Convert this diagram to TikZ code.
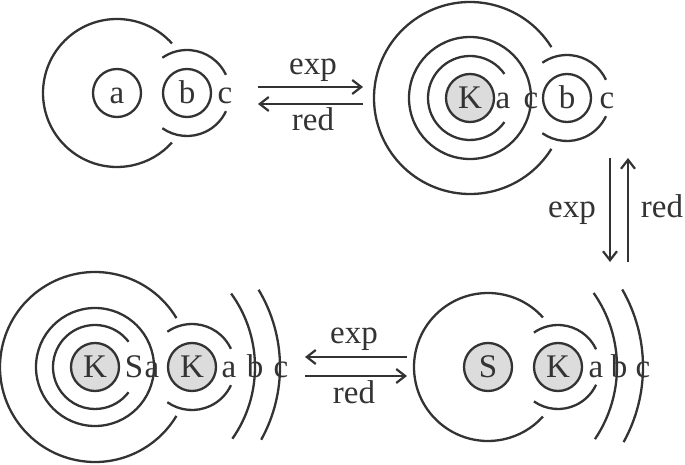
\documentclass[tikz,border=0pt]{standalone}
\usepackage{fontspec}
\setmainfont{Liberation Serif}
\usepackage{tikz}
\usetikzlibrary{arrows.meta, calc}
\definecolor{sline}{HTML}{333333}
\definecolor{sfill}{HTML}{DCDCDC}
\newcommand{\elfont}{\fontsize{33pt}{39pt}\selectfont}
\tikzset{
  core/.style={circle, draw=sline, line width=2.3pt, minimum size=48pt, inner sep=0pt,
               font=\elfont, text height=21pt, text depth=0pt, text=sline},
  kcore/.style={core, fill=sfill},
  shell/.style={draw=sline, line width=2.3pt},
  elec/.style={font=\elfont, inner sep=0pt, anchor=base, text=sline},
  rarr/.style={-{Straight Barb[length=9pt, width=14pt, line width=2.2pt]}, line width=2.4pt, sline},
}

\begin{document}
\begin{tikzpicture}[x=1pt, y=1pt]
  \useasboundingbox (0,0) rectangle (685,-465);
  % a b c
  \node[core] (a1) at (117,-93) {a};
  \node[core] (b1) at (187,-93) {b};
  \node[elec] (c1) at (225,-103.5) {c};
  \draw[shell] ($(a1)+(42:74pt)$) arc[start angle=42, end angle=318, radius=74pt];
  \foreach \s in {25,235}
    \draw[shell] ($(b1)+(\s:43pt)$) arc[start angle=\s, delta angle=100, radius=43pt];

  % K a c b c
  \node[kcore] (k2) at (470,-98) {K};
  \node[elec] (a2) at (503,-108.5) {a};
  \node[elec] (c2) at (531,-108.5) {c};
  \node[core] (b2) at (567,-98) {b};
  \node[elec] (c2b) at (607,-108.5) {c};
  \draw[shell] ($(k2)+(32:96pt)$) arc[start angle=32, end angle=328, radius=96pt];
  \draw[shell] (k2) circle[radius=61pt];
  \draw[shell] ($(k2)+(35:42pt)$) arc[start angle=35, end angle=325, radius=42pt];
  \foreach \s in {25,235}
    \draw[shell] ($(b2)+(\s:43pt)$) arc[start angle=\s, delta angle=100, radius=43pt];

  % S K a b c
  \node[kcore] (s3) at (488,-367) {S};
  \node[kcore] (k3) at (558,-367) {K};
  \node[elec] (a3) at (596,-377.5) {a};
  \node[elec] (b3) at (619,-377.5) {b};
  \node[elec] (c3) at (643,-377.5) {c};
  \draw[shell] ($(s3)+(42:74pt)$) arc[start angle=42, end angle=318, radius=74pt];
  \foreach \s in {25,235}
    \draw[shell] ($(k3)+(\s:42pt)$) arc[start angle=\s, delta angle=100, radius=42pt];
  \draw[shell] ($(s3)+(-34:129pt)$) arc[start angle=-34, end angle=35, radius=129pt];
  \draw[shell] ($(s3)+(-29:155pt)$) arc[start angle=-29, end angle=30, radius=155pt];

  % K S a K a b c
  \node[kcore] (k4) at (95,-367) {K};
  \node[elec] (s4) at (134,-377.5) {S};
  \node[elec] (a4) at (152,-377.5) {a};
  \node[kcore] (k4b) at (192,-367) {K};
  \node[elec] (a4b) at (229,-377.5) {a};
  \node[elec] (b4) at (255,-377.5) {b};
  \node[elec] (c4) at (281,-377.5) {c};
  \coordinate (o4) at (130,-367);
  \draw[shell] ($(k4)+(31:95pt)$) arc[start angle=31, end angle=329, radius=95pt];
  \draw[shell] (k4) circle[radius=59pt];
  \draw[shell] ($(k4)+(37:42pt)$) arc[start angle=37, end angle=323, radius=42pt];
  \foreach \s in {25,235}
    \draw[shell] ($(k4b)+(\s:43pt)$) arc[start angle=\s, delta angle=100, radius=43pt];
  \draw[shell] ($(o4)+(-35:125pt)$) arc[start angle=-35, end angle=36, radius=125pt];
  \draw[shell] ($(o4)+(-29:150pt)$) arc[start angle=-29, end angle=31, radius=150pt];

  % arrows
  \coordinate (t1) at (258,-87);  \coordinate (t2) at (363,-87);
  \coordinate (t3) at (363,-104); \coordinate (t4) at (258,-104);
  \draw[rarr] (t1) -- (t2);
  \draw[rarr] (t3) -- (t4);
  \node[elec] (texp) at (313,-75) {exp};
  \node[elec] (tred) at (313,-131) {red};

  \coordinate (v1) at (610,-158); \coordinate (v2) at (610,-262);
  \coordinate (v3) at (628,-262); \coordinate (v4) at (628,-158);
  \draw[rarr] (v1) -- (v2);
  \draw[rarr] (v3) -- (v4);
  \node[elec] (vexp) at (572,-218) {exp};
  \node[elec] (vred) at (662,-218) {red};

  \coordinate (h1) at (407,-357); \coordinate (h2) at (305,-357);
  \coordinate (h3) at (305,-376); \coordinate (h4) at (407,-376);
  \draw[rarr] (h1) -- (h2);
  \draw[rarr] (h3) -- (h4);
  \node[elec] (hexp) at (354,-343) {exp};
  \node[elec] (hred) at (354,-403) {red};
\end{tikzpicture}
\end{document}
